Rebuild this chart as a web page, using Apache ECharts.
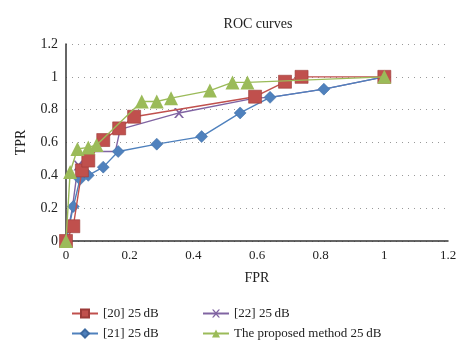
<!DOCTYPE html>
<html><head><meta charset="utf-8">
<script src="https://cdn.jsdelivr.net/npm/echarts@6/dist/echarts.min.js"></script>
<style>html,body{margin:0;padding:0;background:#fff}#c{width:474px;height:357px}</style>
</head><body><div id="c"></div>
<script>
const seriesNames = ['[20] 25\u2009dB', '[21] 25\u2009dB', '[22] 25\u2009dB', 'The proposed method 25\u2009dB'];
const ref20 = [[0,0],[0.023,0.09],[0.05,0.43],[0.07,0.49],[0.117,0.615],[0.167,0.686],[0.214,0.757],[0.594,0.879],[0.688,0.97],[0.74,1],[1,1]];
const ref21 = [[0,0],[0.023,0.21],[0.044,0.376],[0.07,0.40],[0.117,0.45],[0.164,0.545],[0.285,0.59],[0.426,0.636],[0.547,0.78],[0.641,0.875],[0.81,0.925],[1,1]];
const ref22 = [[0,0],[0.02,0.2],[0.035,0.42],[0.039,0.46],[0.09,0.545],[0.155,0.545],[0.17,0.68],[0.355,0.78],[0.594,0.87],[0.641,0.875],[0.81,0.925],[1,1]];
const proposed = [[0,0],[0.013,0.42],[0.036,0.56],[0.07,0.57],[0.096,0.585],[0.238,0.85],[0.285,0.85],[0.33,0.87],[0.452,0.916],[0.523,0.966],[0.57,0.966],[1,1]];
const xTicks = [0,0.2,0.4,0.6,0.8,1,1.2];
const yTicks = [0,0.2,0.4,0.6,0.8,1,1.2];

const serif = '"Liberation Serif","DejaVu Serif",serif';
const xPath = 'path://M0,0L2,0L5,3.5L8,0L10,0L6,5L10,10L8,10L5,6.5L2,10L0,10L4,5Z';
// purple markers shown only where they are not hidden under other series' markers
const visibleX = new Set([3, 7]);
const chart = echarts.init(document.getElementById('c'));
chart.setOption({
  animation: false,
  title: {text: 'ROC curves', left: 253, top: 12, textAlign: 'center',
    textStyle: {fontFamily: serif, fontWeight: 'normal', fontSize: 14, color: '#222'}},
  grid: {left: 66, right: 26, top: 44, bottom: 116},
  xAxis: {type: 'value', min: 0, max: 1.2, interval: 0.2, name: 'FPR', nameLocation: 'middle', nameGap: 30,
    nameTextStyle: {fontFamily: serif, fontSize: 14, color: '#222'},
    axisLine: {show: true, lineStyle: {color: '#333', width: 1.5}}, axisTick: {show: false},
    splitLine: {show: false},
    axisLabel: {fontFamily: serif, fontSize: 13, color: '#222', margin: 8,
      formatter: v => xTicks.includes(+v.toFixed(1)) ? String(+v.toFixed(1)) : ''}},
  yAxis: {type: 'value', min: 0, max: 1.2, interval: 0.2, name: 'TPR', nameLocation: 'middle', nameGap: 38,
    nameTextStyle: {fontFamily: serif, fontSize: 14, color: '#222'},
    axisLine: {show: true, lineStyle: {color: '#333', width: 1.5}}, axisTick: {show: false},
    splitLine: {show: true, lineStyle: {color: '#999', type: [1, 5], width: 1}},
    axisLabel: {fontFamily: serif, fontSize: 14, color: '#222', margin: 8,
      formatter: v => yTicks.includes(+v.toFixed(1)) ? String(+v.toFixed(1)) : ''}},
  legend: [
    {data: [seriesNames[0], seriesNames[1]], orient: 'vertical', left: 66, top: 302, itemWidth: 26, itemHeight: 10, itemGap: 7,
      textStyle: {fontFamily: serif, fontSize: 13, color: '#222'}},
    {data: [seriesNames[2], seriesNames[3]], orient: 'vertical', left: 197, top: 302, itemWidth: 26, itemHeight: 10, itemGap: 7,
      textStyle: {fontFamily: serif, fontSize: 13, color: '#222'}}
  ],
  series: [
    {name: seriesNames[2], type: 'line', data: ref22, z: 2, symbol: xPath,
      symbolSize: (v, p) => visibleX.has(p.dataIndex) ? 10 : 0,
      itemStyle: {color: '#8064A2'}, lineStyle: {color: '#8064A2', width: 1.4}},
    {name: seriesNames[1], type: 'line', data: ref21, z: 3, symbol: 'diamond', symbolSize: 12,
      itemStyle: {color: '#4F81BD', borderColor: '#3d6aa0', borderWidth: 0.5}, lineStyle: {color: '#4F81BD', width: 1.4}},
    {name: seriesNames[0], type: 'line', data: ref20, z: 4, symbol: 'rect', symbolSize: 13,
      itemStyle: {color: '#C0504D', borderColor: '#9c3a38', borderWidth: 0.6}, lineStyle: {color: '#C0504D', width: 1.4}},
    {name: seriesNames[3], type: 'line', data: proposed, z: 5, symbol: 'triangle', symbolSize: 14,
      itemStyle: {color: '#9BBB59'}, lineStyle: {color: '#9BBB59', width: 1.4}}
  ]
});
</script></body></html>
